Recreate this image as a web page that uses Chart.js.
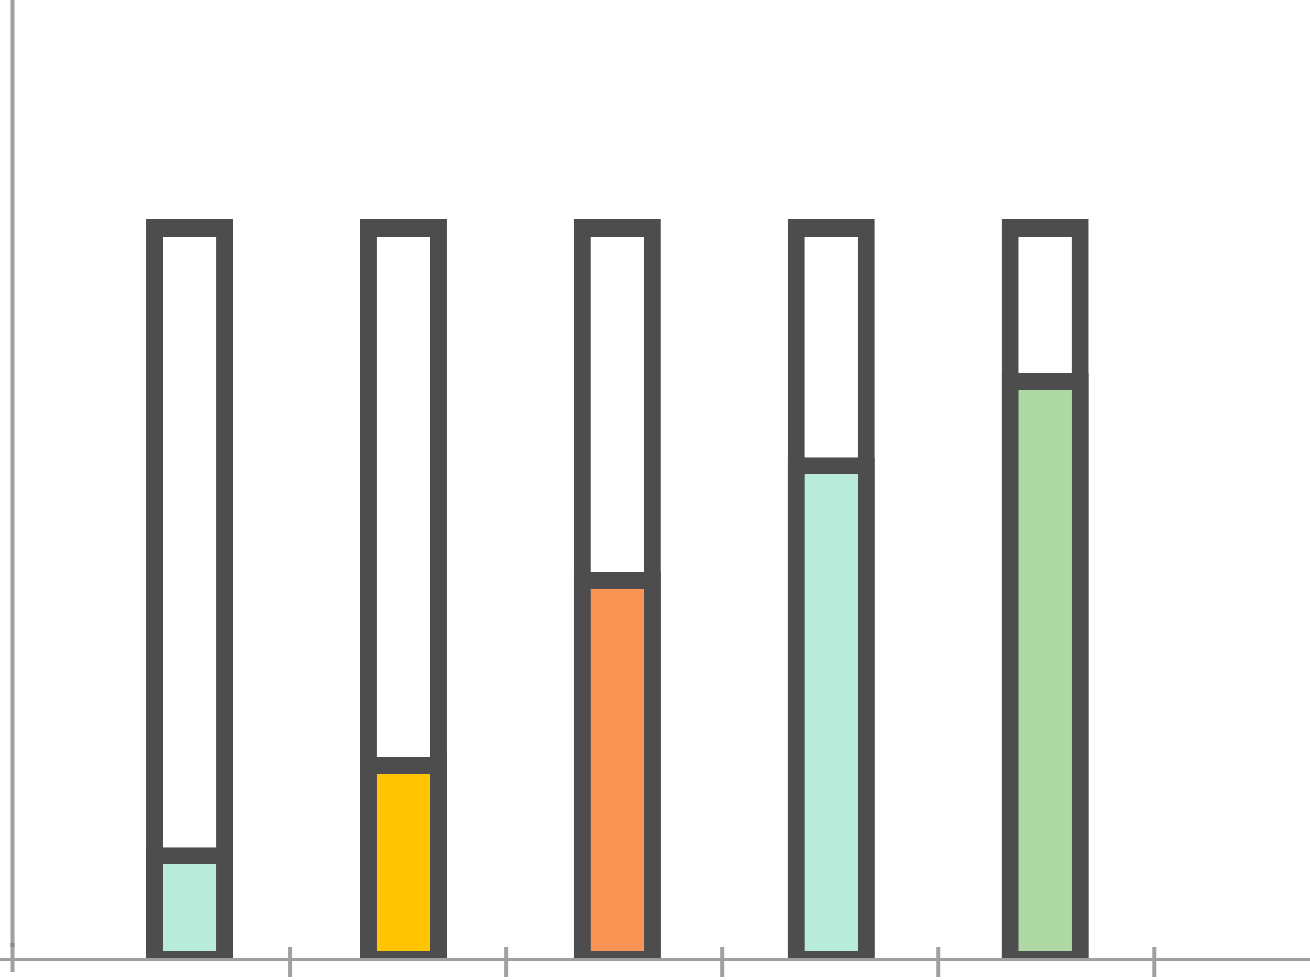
<!DOCTYPE html>
<html>
<head>
<meta charset="utf-8">
<script src="https://cdn.jsdelivr.net/npm/chart.js@4.4.1/dist/chart.umd.min.js"></script>
<style>
    html, body { margin: 0; padding: 0; background: #ffffff; }
    #wrap { width: 1310px; height: 980px; position: relative; }
</style>
</head>
<body>
<div id="wrap"><canvas id="grafico"></canvas></div>
<script>
// dados do gráfico
var posicoes = [1, 2, 3, 4, 5];
var valoresPreenchidos = [15.1, 27.3, 52.3, 67.8, 79.2];
var valoresTotais = [100, 100, 100, 100, 100];
var coresBarras = ['#b9ebdb', '#ffc502', '#f99455', '#b9ebdb', '#aed8a4'];
var marcasEixoX = [1.47, 2.48, 3.49, 4.5, 5.51];

var corBorda = '#4d4d4d';
var corEixo = '#a0a0a0';

// montar os pontos {x, y}
var dadosPreenchidos = [];
var dadosTotais = [];
for (i = 0; i < posicoes.length; i++) {
    dadosPreenchidos.push({ x: posicoes[i], y: valoresPreenchidos[i] });
    dadosTotais.push({ x: posicoes[i], y: valoresTotais[i] });
}

// desenhar os eixos e as marcas por cima das barras
const eixosPlugin = {
    id: 'eixos',
    afterDatasetsDraw(chart) {
        const ctx = chart.ctx;
        const area = chart.chartArea;
        const xScale = chart.scales.x;
        ctx.save();
        ctx.strokeStyle = corEixo;

        // eixo vertical
        ctx.lineWidth = 4;
        ctx.beginPath();
        ctx.moveTo(area.left + 0.5, 0);
        ctx.lineTo(area.left + 0.5, area.bottom + 13);
        ctx.stroke();

        // pequena marca no eixo vertical
        ctx.strokeStyle = '#8a8a8a';
        ctx.beginPath();
        ctx.moveTo(area.left + 0.5, area.bottom - 16);
        ctx.lineTo(area.left + 0.5, area.bottom - 12);
        ctx.stroke();
        ctx.strokeStyle = corEixo;

        // eixo horizontal
        ctx.lineWidth = 3;
        ctx.beginPath();
        ctx.moveTo(0, area.bottom + 0.5);
        ctx.lineTo(chart.width, area.bottom + 0.5);
        ctx.stroke();

        // marcas do eixo x
        ctx.lineWidth = 4;
        for (i = 0; i < marcasEixoX.length; i++) {
            var px = xScale.getPixelForValue(marcasEixoX[i]);
            ctx.beginPath();
            ctx.moveTo(px, area.bottom - 12);
            ctx.lineTo(px, area.bottom + 18);
            ctx.stroke();
        }
        ctx.restore();
    }
};

const ctx = document.getElementById('grafico');

new Chart(ctx, {
    type: 'bar',
    data: {
        datasets: [{
            label: 'preenchido',
            data: dadosPreenchidos,
            backgroundColor: coresBarras,
            borderColor: corBorda,
            borderWidth: { top: 17, left: 17, right: 17, bottom: 8 },
            borderSkipped: false,
            grouped: false,
            barThickness: 87,
            inflateAmount: 0
        }, {
            label: 'total',
            data: dadosTotais,
            backgroundColor: '#ffffff',
            borderColor: corBorda,
            borderWidth: { top: 18, left: 17, right: 17, bottom: 8 },
            borderSkipped: false,
            grouped: false,
            barThickness: 87,
            inflateAmount: 0
        }]
    },
    options: {
        responsive: true,
        maintainAspectRatio: false,
        animation: false,
        events: [],
        layout: { padding: { left: 12, right: 0, top: 0, bottom: 21 } },
        plugins: {
            legend: { display: false },
            tooltip: { enabled: false }
        },
        scales: {
            x: {
                type: 'linear',
                display: false,
                offset: false,
                min: 0.17,
                max: 6.238
            },
            y: {
                display: false,
                beginAtZero: true,
                min: 0,
                max: 129.6
            }
        }
    },
    plugins: [eixosPlugin]
});
</script>
</body>
</html>
